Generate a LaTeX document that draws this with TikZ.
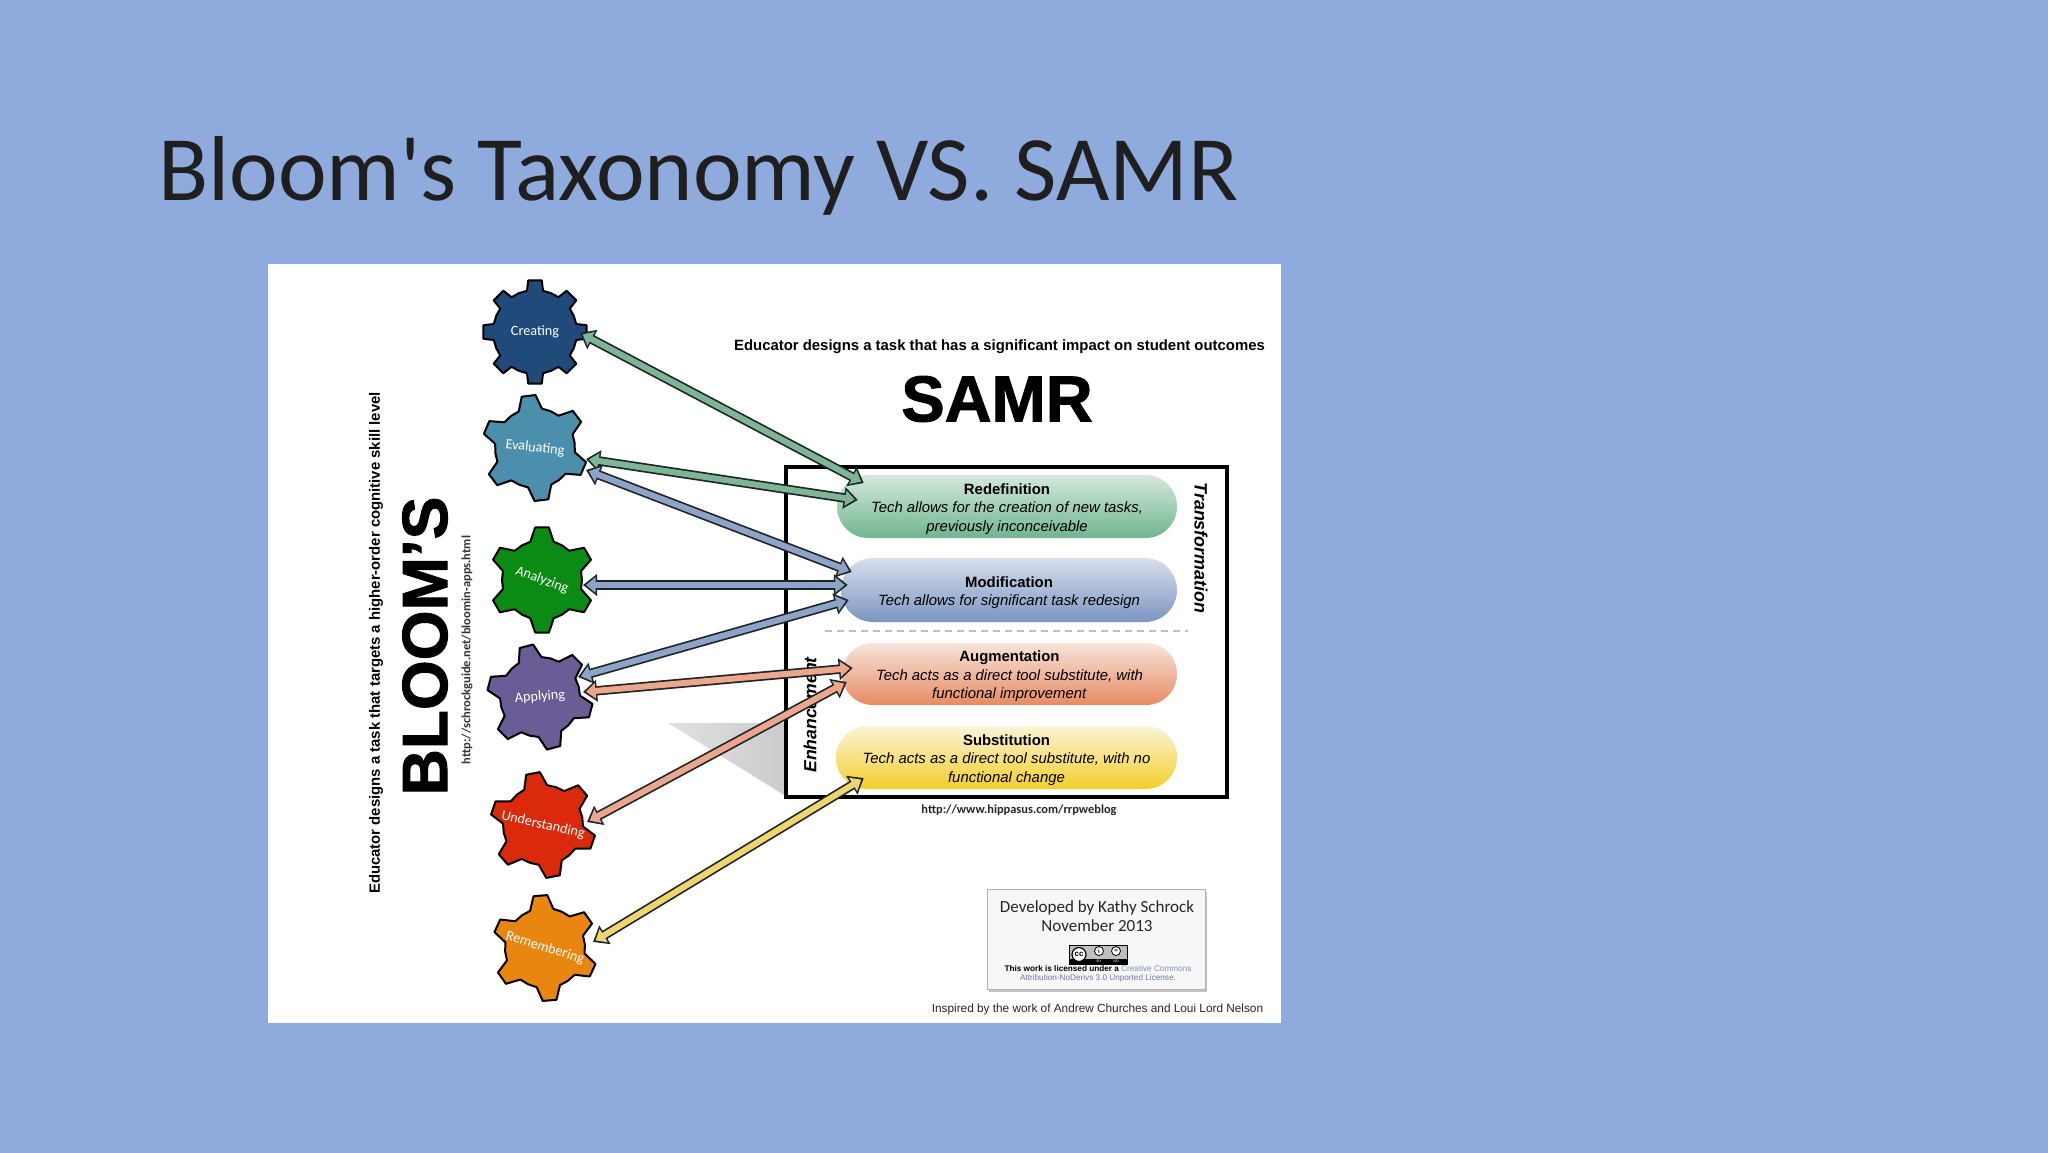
\documentclass[tikz,border=0pt]{standalone}
\usepackage{fontspec}
\setmainfont{Liberation Sans}
\newfontfamily\slidefont{Carlito}
\newfontfamily\heavyfont[FakeBold=1.5]{Liberation Sans Bold}
\usetikzlibrary{arrows.meta,calc,shapes.misc,shadows}
\definecolor{slideblue}{HTML}{8FAADC}
\definecolor{linkgreen}{HTML}{7DB596}
\definecolor{linkblue}{HTML}{8FA3C9}
\definecolor{linksalmon}{HTML}{EDA68E}
\definecolor{linkyellow}{HTML}{EFD56F}
\definecolor{edgedark}{HTML}{1C2626}
\definecolor{gearnavy}{HTML}{1F4A7A}
\definecolor{gearteal}{HTML}{4B8FAC}
\definecolor{geargreen}{HTML}{0B8A14}
\definecolor{gearpurple}{HTML}{6A5C94}
\definecolor{gearred}{HTML}{DB2A0B}
\definecolor{gearorange}{HTML}{E9860F}
\definecolor{redeftop}{HTML}{D5E8DC}
\definecolor{redefbot}{HTML}{6FB58F}
\definecolor{modiftop}{HTML}{D8DEEC}
\definecolor{modifbot}{HTML}{7D95C2}
\definecolor{augmtop}{HTML}{F7E4DC}
\definecolor{augmbot}{HTML}{E68B62}
\definecolor{substop}{HTML}{FBF4D8}
\definecolor{substbot}{HTML}{F3CE2A}
\definecolor{cardgrey}{HTML}{F7F7F7}
\definecolor{ccblue}{HTML}{8090B0}
\definecolor{ccbluedark}{HTML}{6A7AA0}
\tikzset{
  gearedge/.style={draw=black,line width=2pt,line join=round},
  gearlabel/.style={circle,inner sep=0pt,minimum size=90pt,text=white,font=\slidefont\fontsize{14.2}{16}\selectfont},
  pill/.style={rounded rectangle,inner sep=0pt,align=center,font=\fontsize{14.9}{18.6}\selectfont},
  linkedge/.style={{Triangle[length=14pt,width=21pt]}-{Triangle[length=14pt,width=21pt]},line width=9.4pt,edgedark},
  linkfill/.style={{Triangle[length=9.5pt,width=15pt]}-{Triangle[length=9.5pt,width=15pt]},line width=6pt,shorten <=3pt,shorten >=3pt},
  tinytext/.style={inner sep=0pt,font=\fontsize{#1}{#1}\selectfont},
}
% one gear with its name on it
\newcommand{\gearnode}[9]{%
  \pgfmathsetmacro{\stepang}{360/#3}
  \pgfmathsetmacro{\innerang}{#3==8 ? 11 : 17}
  \draw[gearedge,fill=#7,shift={#2}] ({#4-\stepang/2}:#5)
    foreach \k in {1,...,#3} {
      -- ({#4+(\k-1)*\stepang-\innerang}:#5) -- ({#4+(\k-1)*\stepang-7.5}:#6)
      -- ({#4+(\k-1)*\stepang+7.5}:#6) -- ({#4+(\k-1)*\stepang+\innerang}:#5)
      -- ({#4+(\k-1)*\stepang+\stepang/2}:#5)
    } -- cycle;
  \node[gearlabel,rotate=#8] (#1) at #2 {#9};
}
% outlined block arrow between two ends
\newcommand{\linkarrow}[3]{%
  \draw[linkedge] #2 -- #3;
  \draw[linkfill,#1] #2 -- #3;
}
% first line of a pill, with a little air above it
\newcommand{\pillhead}[1]{\rule{0pt}{15.7pt}\textbf{#1}}
\begin{document}
\begin{tikzpicture}[x=1pt,y=-1pt]
\useasboundingbox (0,0) rectangle (2048,1152);
\fill[slideblue] (-2,-2) rectangle (2050,1154);
\fill[white] (268,264) rectangle (1281,1023);
\node[anchor=base west,inner sep=0pt,text=black!88,font=\slidefont\fontsize{92.2}{92}\selectfont] (title) at (158,200) {Bloom's Taxonomy VS. SAMR};

% left column
\node[rotate=90,inner sep=0pt,font=\bfseries\fontsize{14.9}{16}\selectfont] (bloomline) at (376,643) {Educator designs a task that targets a higher-order cognitive skill level};
\node[rotate=90,inner sep=0pt,font=\heavyfont\fontsize{64}{64}\selectfont] (bloomword) at (425,646) {BLOOM’S};
\node[rotate=90,inner sep=0pt,font=\slidefont\bfseries\fontsize{12.5}{14}\selectfont,text=black!80] (bloomurl) at (467,650) {http://schrockguide.net/bloomin-apps.html};

\gearnode{creating}{(535,332)}{8}{-90}{42}{52}{gearnavy}{0}{Creating}
\gearnode{evaluating}{(535,448)}{6}{-97}{40}{53}{gearteal}{-6}{Evaluating}
\gearnode{analyzing}{(542,580)}{6}{-90}{40}{53}{geargreen}{-20}{Analyzing}
\gearnode{applying}{(540,697)}{6}{-105}{40}{53}{gearpurple}{4}{Applying}
\gearnode{understanding}{(543,825)}{6}{-101}{40}{53}{gearred}{-13}{Understanding}
\gearnode{remembering}{(545,948)}{6}{-95}{40}{53}{gearorange}{-17}{Remembering}

% samr side
\node[inner sep=0pt,font=\bfseries\fontsize{14.9}{16}\selectfont] (samrline) at (999.5,347) {Educator designs a task that has a significant impact on student outcomes};
\node[inner sep=0pt,font=\heavyfont\fontsize{65}{65}\selectfont] (samrword) at (997,399) {SAMR};
\shade[left color=black!12,right color=black!20] (668,723) -- (784,723) -- (784,795) -- cycle;
\draw[line width=3.4pt] (786,467) rectangle (1227,797);
\draw[black!25,line width=1.5pt,dash pattern=on 7pt off 5pt] (825,631) -- (1188,631);
\node[rotate=-90,inner sep=0pt,font=\bfseries\itshape\fontsize{17.9}{18}\selectfont] (transformation) at (1201,548) {Transformation};
\node[rotate=90,inner sep=0pt,font=\bfseries\itshape\fontsize{17.6}{18}\selectfont] (enhancement) at (810,715) {Enhancement};

\node[pill,minimum width=340pt,minimum height=63pt,top color=redeftop,bottom color=redefbot] (redefinition) at (1007,506.5)
  {\pillhead{Redefinition}\\\textit{Tech allows for the creation of new tasks,}\\\textit{previously inconceivable}};
\node[pill,minimum width=336pt,minimum height=64pt,top color=modiftop,bottom color=modifbot] (modification) at (1009,590)
  {\pillhead{Modification}\\\textit{Tech allows for significant task redesign}};
\node[pill,minimum width=335pt,minimum height=62pt,top color=augmtop,bottom color=augmbot] (augmentation) at (1009.5,674)
  {\pillhead{Augmentation}\\\textit{Tech acts as a direct tool substitute, with}\\\textit{functional improvement}};
\node[pill,minimum width=341pt,minimum height=63pt,top color=substop,bottom color=substbot] (substitution) at (1006.5,757.5)
  {\pillhead{Substitution}\\\textit{Tech acts as a direct tool substitute, with no}\\\textit{functional change}};
\node[inner sep=0pt,font=\slidefont\bfseries\fontsize{12.4}{14}\selectfont,text=black!85] (samrurl) at (1019,810) {http://www.hippasus.com/rrpweblog};

% block arrows
\linkarrow{linkgreen}{($(creating)+(45,1)$)}{($(redefinition.west)+(27,-23.5)$)}
\linkarrow{linkgreen}{($(evaluating)+(51,11)$)}{($(redefinition.west)+(21,-6.5)$)}
\linkarrow{linkblue}{($(evaluating)+(51,22)$)}{($(modification.west)+(11,-18)$)}
\linkarrow{linkblue}{($(analyzing)+(41,5)$)}{($(modification.west)+(7,-5)$)}
\linkarrow{linkblue}{($(applying)+(38,-20)$)}{($(modification.west)+(8,10)$)}
\linkarrow{linksalmon}{($(applying)+(43,-5)$)}{($(augmentation.west)+(11,-6)$)}
\linkarrow{linksalmon}{($(understanding)+(44,-3)$)}{($(augmentation.west)+(5,8)$)}
\linkarrow{linkyellow}{($(remembering)+(48,-6)$)}{($(substitution.west)+(28,20.5)$)}

% credit card
\node[draw=black!30,fill=cardgrey,line width=.8pt,minimum width=218pt,minimum height=100pt,inner sep=0pt,drop shadow={shadow xshift=2pt,shadow yshift=-2.5pt,opacity=.45}] (creditcard) at (1096,939) {};
\node[inner sep=0pt,align=center,text=black!85,font=\slidefont\fontsize{17}{18.4}\selectfont] (credit) at (1097,916) {Developed by Kathy Schrock\\November 2013};
\node[draw=black,fill=black!25,minimum width=58pt,minimum height=19pt,inner sep=0pt] (ccbadge) at (1098,954.5) {};
\fill[black] ($(ccbadge.south west)+(0,-5)$) rectangle (ccbadge.south east);
\node[circle,draw=black,fill=white,line width=1.2pt,minimum size=14pt,inner sep=0pt,font=\bfseries\fontsize{8}{8}\selectfont] (ccmark) at (1079,954.5) {cc};
\node[circle,draw=black,fill=white,line width=.8pt,minimum size=9pt,inner sep=0pt,font=\bfseries\fontsize{6}{6}\selectfont] (bymark) at (1099,951) {i};
\node[circle,draw=black,fill=white,line width=.8pt,minimum size=9pt,inner sep=0pt,font=\bfseries\fontsize{6}{6}\selectfont] (ndmark) at (1116,951) {=};
\node[tinytext=3.5,text=white] (bytext) at (1099,961.5) {BY};
\node[tinytext=3.5,text=white] (ndtext) at (1116,961.5) {ND};
\node[tinytext=8.2,align=center,font=\fontsize{8.2}{9.2}\selectfont] (license) at (1098,974) {\textbf{This work is licensed under a} \textcolor{ccblue}{Creative Commons}\\\textcolor{ccbluedark}{Attribution-NoDerivs 3.0 Unported License.}};
\node[inner sep=0pt,font=\fontsize{11.8}{14}\selectfont,text=black!85] (inspired) at (1097.5,1009) {Inspired by the work of Andrew Churches and Loui Lord Nelson};
\end{tikzpicture}
\end{document}
